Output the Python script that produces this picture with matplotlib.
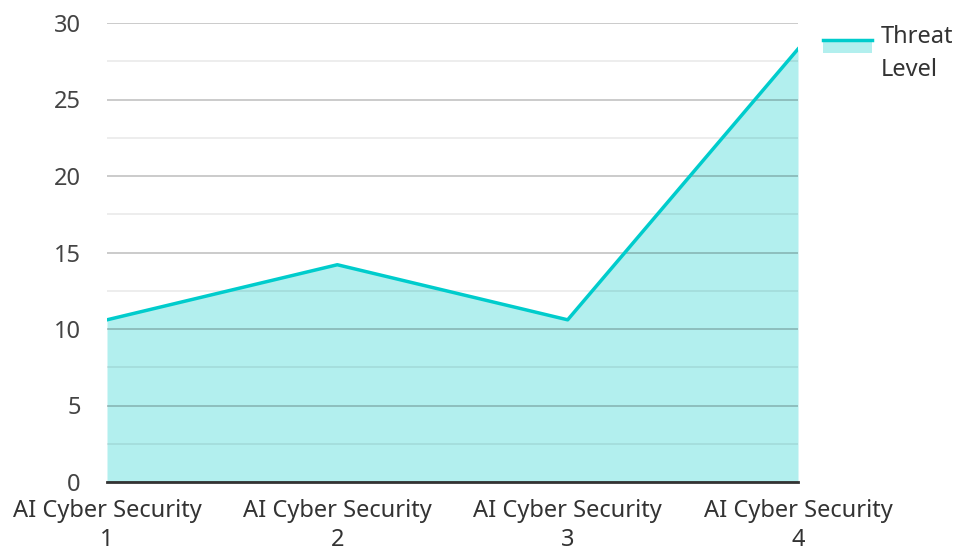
import numpy as np
import matplotlib.pyplot as plt
from matplotlib.ticker import MultipleLocator
from matplotlib.patches import Rectangle
from matplotlib.lines import Line2D
from matplotlib.legend_handler import HandlerBase

plt.rcParams['font.family'] = ['Noto Sans', 'DejaVu Sans']

categories = ['AI Cyber Security\n1', 'AI Cyber Security\n2',
              'AI Cyber Security\n3', 'AI Cyber Security\n4']
threat_level = [10.6, 14.2, 10.6, 28.3]

line_color = '#00cccc'
fill_color = '#b2efee'


class AreaHandler(HandlerBase):
    # line on top of a filled box, lifted to sit beside the first text line
    def create_artists(self, legend, orig_handle, xdescent, ydescent,
                       width, height, fontsize, trans):
        yline = height / 2 - ydescent + 10.5
        rect = Rectangle((-xdescent, yline - 9.5), width, 9.5, facecolor=fill_color,
                         edgecolor='none', transform=trans)
        ln = Line2D([-xdescent, -xdescent + width], [yline, yline],
                    color=line_color, linewidth=2.5, transform=trans)
        return [rect, ln]


fig = plt.figure(figsize=(9.57, 5.52), dpi=100)
ax = fig.add_axes([107/957, 70/552, 691/957, 459/552])

x = np.arange(len(categories))
ax.fill_between(x, threat_level, 0, color=fill_color, zorder=1, linewidth=0)
ln, = ax.plot(x, threat_level, color=line_color, linewidth=2.5, zorder=3)

ax.set_xlim(0, len(categories) - 1)
ax.set_ylim(0, 30)
ax.yaxis.set_major_locator(MultipleLocator(5))
ax.yaxis.set_minor_locator(MultipleLocator(2.5))
ax.grid(which='major', axis='y', color='#000000', alpha=0.22, linewidth=1.3, zorder=2)
ax.grid(which='minor', axis='y', color='#000000', alpha=0.08, linewidth=1.3, zorder=2)
ax.set_axisbelow(False)

ax.set_xticks(x)
ax.set_xticklabels(categories, fontsize=17, color='#333333', linespacing=1.3)
ax.tick_params(axis='y', labelsize=17, labelcolor='#444444', length=0, pad=19)
ax.tick_params(axis='x', length=0, pad=12)
ax.tick_params(which='minor', length=0)

for s in ['top', 'right', 'left']:
    ax.spines[s].set_visible(False)
ax.spines['bottom'].set_color('#333333')
ax.spines['bottom'].set_linewidth(2)
ax.spines['bottom'].set_zorder(4)

leg = fig.legend([ln], ['Threat\nLevel'], loc='upper left',
                 bbox_to_anchor=(823/957, 1 - 25/552),
                 frameon=False, fontsize=17, handlelength=2.07, handletextpad=0.38,
                 borderpad=0, borderaxespad=0, labelcolor='#333333',
                 handler_map={Line2D: AreaHandler()})
leg.get_texts()[0].set_linespacing(1.5)

fig.savefig('out.png', dpi=100)
